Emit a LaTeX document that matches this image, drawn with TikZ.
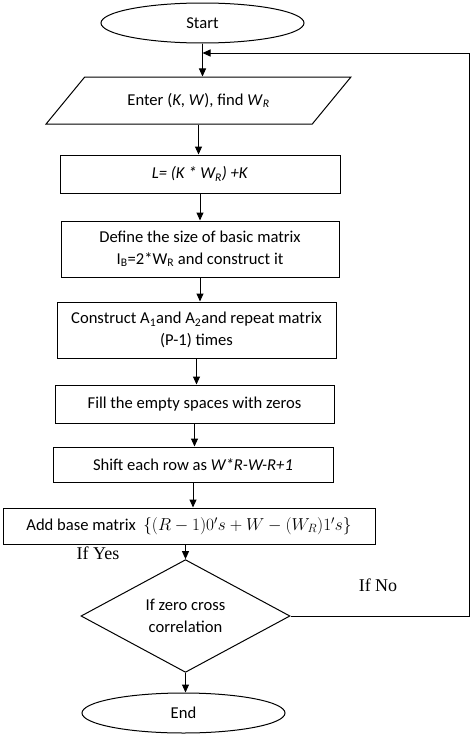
\documentclass[tikz,border=0pt]{standalone}
\usepackage{fontspec}
\setmainfont{Carlito}
\newfontfamily\tnr{Liberation Serif}
\usetikzlibrary{shapes.geometric,arrows.meta}
\begin{document}
\begin{tikzpicture}[x=1pt,y=-1pt, line width=1pt,
 every node/.style={font=\fontsize{16.6}{21.5}\selectfont, align=center, inner sep=0pt},
 box/.style={draw, rectangle},
 term/.style={draw, ellipse, minimum width=203pt, minimum height=40pt},
 arr/.style={-{Triangle[length=8pt,width=7pt]}},
 lbl/.style={font=\tnr\fontsize{18}{20}\selectfont}]
\useasboundingbox (0,0) rectangle (474,736);
\node[term] (start) at (202.5,23) {Start};
\node[draw, trapezium, trapezium left angle=31.4, trapezium right angle=148.6, trapezium stretches=true, minimum width=305pt, minimum height=47pt] (inp) at (198.5,100.5) {Enter (\textit{K}, \textit{W}), find \textit{W}\textsubscript{\textit{R}}};
\node[box, minimum width=280pt, minimum height=38pt] (len) at (200,174) {\textit{L= (K * W\textsubscript{R}) +K}};
\node[box, minimum width=278pt, minimum height=56pt] (size) at (200,249) {Define the size of basic matrix\\ I\textsubscript{B}=2*W\textsubscript{R} and construct it};
\node[box, minimum width=279pt, minimum height=56pt] (cons) at (196.5,330) {Construct A\textsubscript{1}and A\textsubscript{2}and repeat matrix\\(P-1) times};
\node[box, minimum width=279pt, minimum height=38pt] (fill) at (194.5,404) {Fill the empty spaces with zeros};
\node[box, minimum width=280pt, minimum height=35pt] (shift) at (193,464.5) {Shift each row as \textit{W*R-W-R+1}};
\node[box, minimum width=372pt, minimum height=36pt] (base) at (189,526) {Add base matrix\ \ $\{(R-1)0's+W-(W_R)1's\}$};
\node[draw, diamond, minimum width=209pt, minimum height=101pt] (dec) at (185.5,616) {If zero cross\\correlation};
\node[term] (end) at (183.5,713) {End};
\node[lbl] (yes) at (98,553) {If Yes};
\node[lbl] (no) at (378,585) {If No};
\draw[arr] (start.south) -- (start.south |- inp.north);
\draw[arr] (inp.south) -- (inp.south |- len.north);
\draw[arr] (len.south) -- (len.south |- size.north);
\draw[arr] (size.south) -- (size.south |- cons.north);
\draw[arr] (cons.south) -- (cons.south |- fill.north);
\draw[arr] (fill.south) -- (fill.south |- shift.north);
\draw[arr] (shift.south) -- (shift.south |- base.north);
\draw[arr] (base.south -| dec.north) -- (dec.north);
\draw[arr] (dec.south) -- (dec.south |- end.north);
\coordinate (rt) at (469,53);
\draw[arr] (dec.east) -| (rt) -- (start.south |- rt);
\end{tikzpicture}
\end{document}
